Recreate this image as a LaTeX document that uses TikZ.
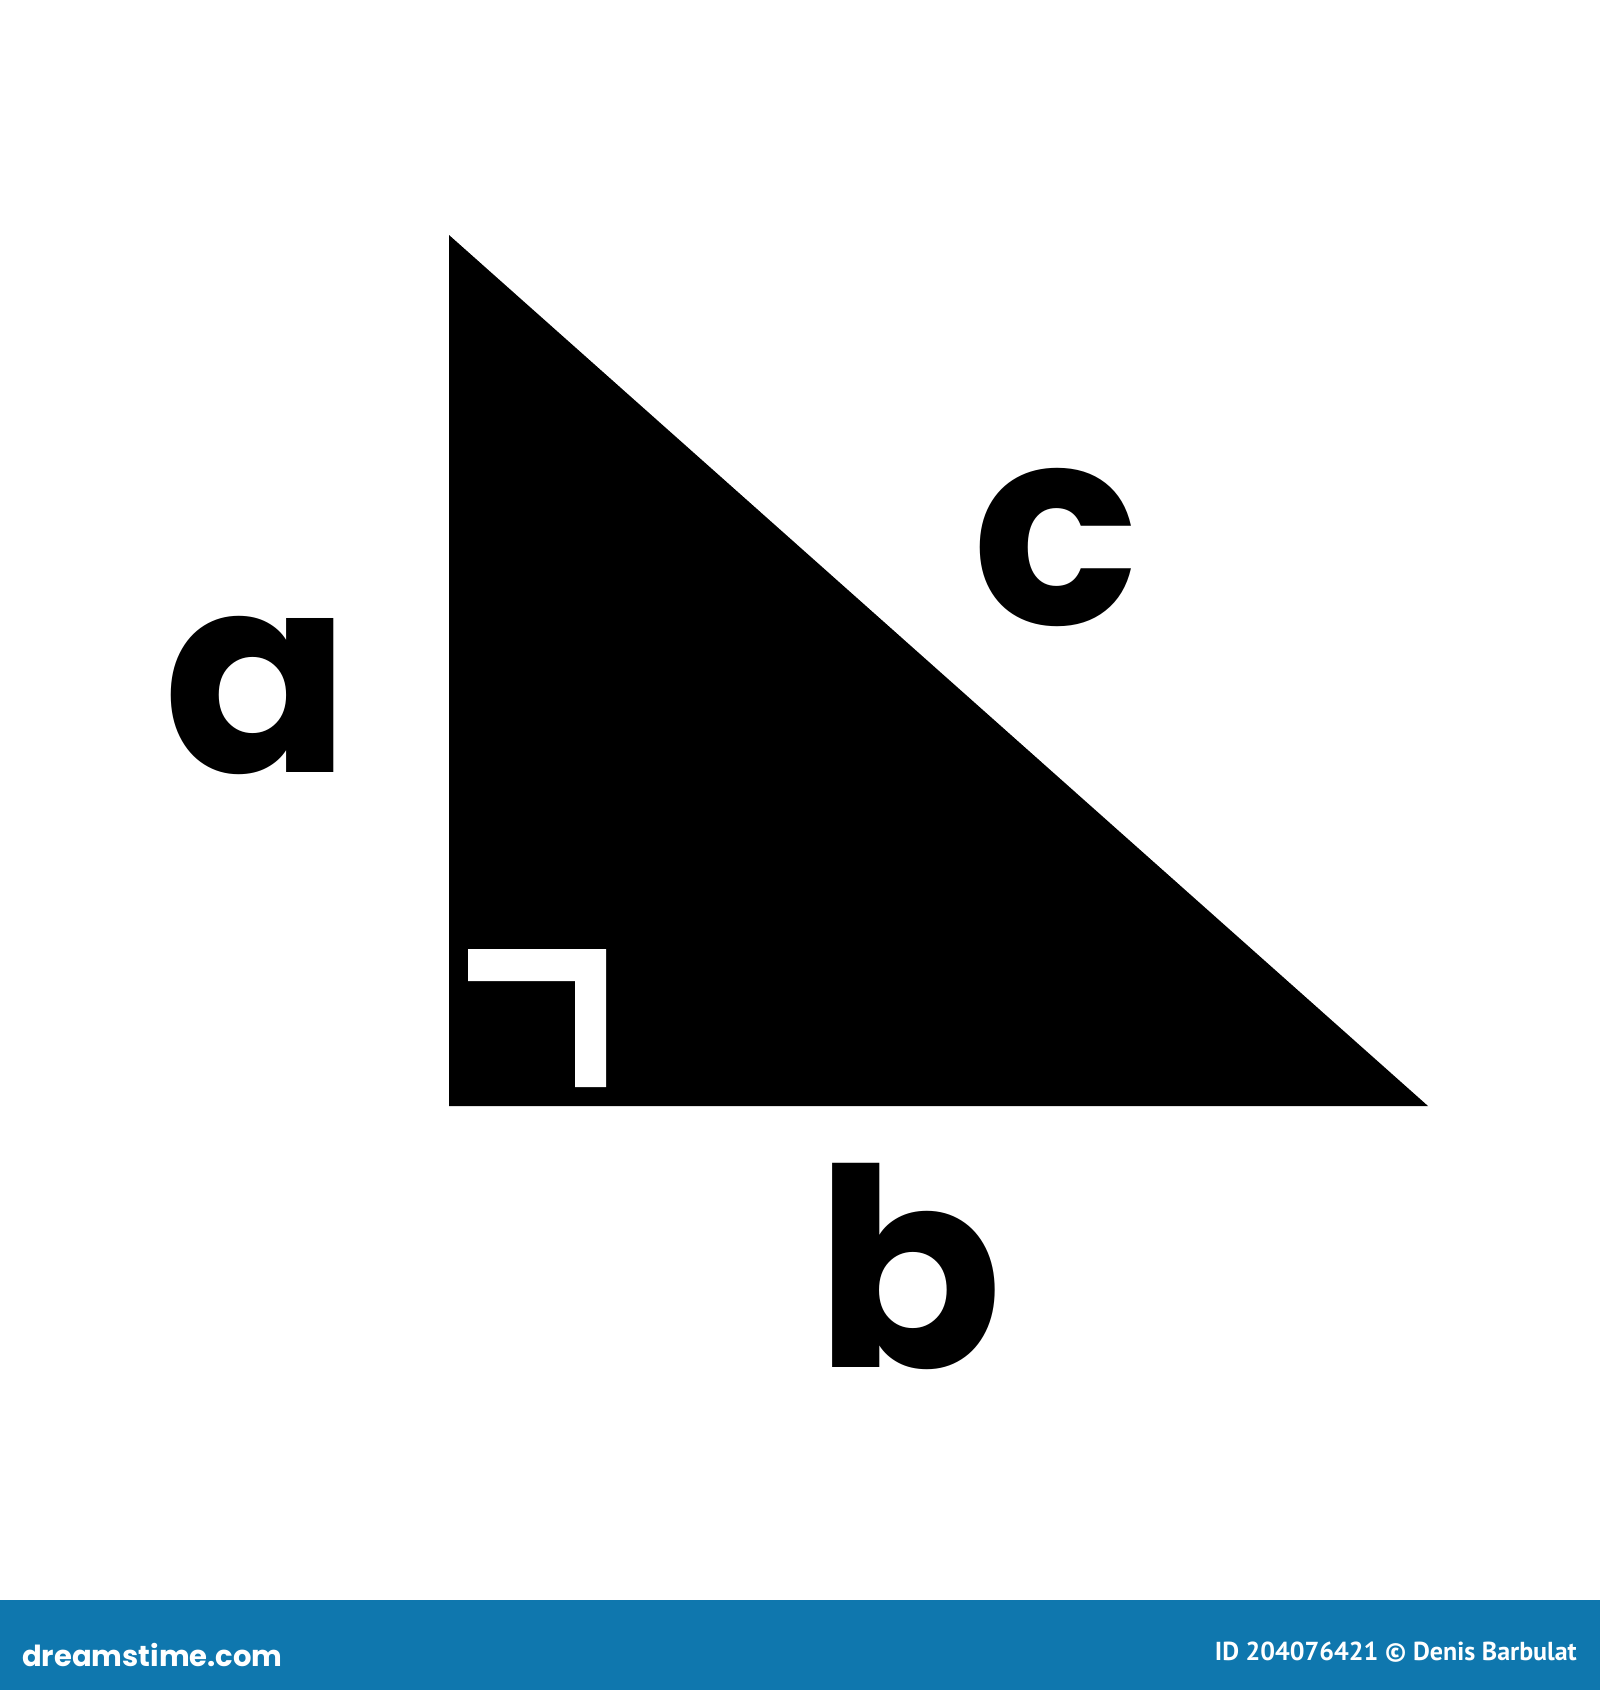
\documentclass[tikz,border=0pt]{standalone}
\usepackage{fontspec}
\newfontfamily\letterfont{Poppins}[UprightFont=* Bold]
\newfontfamily\barfont{PT Sans}[UprightFont=* Bold]
\definecolor{barblue}{HTML}{0F77AE}
\tikzset{
  side/.style={font=\letterfont\fontsize{276}{276}\selectfont, inner sep=0pt, anchor=base, text=black},
  bartext/.style={font=\barfont\fontsize{26}{26}\selectfont, text=white, inner sep=0pt}
}
\begin{document}
\begin{tikzpicture}[x=1pt,y=-1pt]
  \path[fill=white] (0,0) rectangle (1600,1690);
  \useasboundingbox (0,0) rectangle (1600,1690);
  % triangle
  \coordinate (A) at (449,235);
  \coordinate (B) at (449,1106);
  \coordinate (C) at (1428,1106);
  \fill[black] (A) -- (B) -- (C) -- cycle;
  % right-angle mark
  \fill[white] (468,949) -- (606,949) -- (606,1087) -- (575,1087) -- (575,981) -- (468,981) -- cycle;
  % side labels
  \node[side] (la) at (257,772) {a};
  \node[side] (lb) at (909,1367) {b};
  \node[side] (lc) at (1056,624) {c};
  % bottom bar
  \fill[barblue] (0,1600) rectangle (1600,1690);
  \node[bartext, anchor=west, font=\letterfont\fontsize{29}{29}\selectfont] (site) at (22,1655) {dreamstime.com};
  \node[bartext, anchor=east] (id) at (1577,1652) {ID 204076421 © Denis Barbulat};
\end{tikzpicture}
\end{document}
